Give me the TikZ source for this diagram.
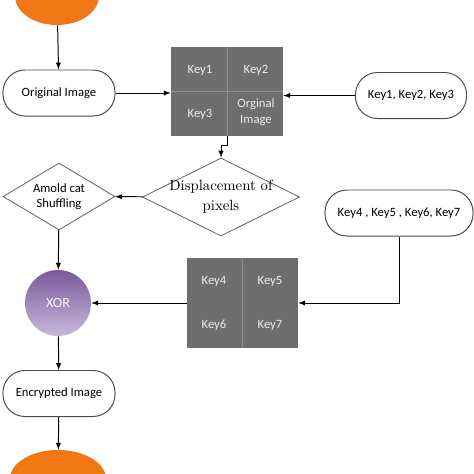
\documentclass[tikz,border=0pt]{standalone}
\usepackage{fontspec}
\usepackage{tikz}
\usepackage{xcolor}
\newfontfamily\flowfont{Carlito}
\usetikzlibrary{shapes.geometric}

\definecolor{termorange}{HTML}{F07814}
\definecolor{keygray}{HTML}{6E6E6E}
\definecolor{keyline}{HTML}{8E8E8E}
\definecolor{xordark}{HTML}{7A5A9C}
\definecolor{xorlight}{HTML}{C9B8DB}

\tikzset{
  oval/.style={ellipse, fill=termorange, text=white!85!termorange, minimum width=2.1cm, minimum height=1.45cm},
  pill/.style={draw=black!70, line width=0.7pt, rounded corners=0.55cm, fill=white,
    minimum width=2.8cm, minimum height=1.15cm},
  keygrid/.style={fill=keygray, minimum width=2.8cm, minimum height=2.225cm},
  keytext/.style={text=white!92!black},
  choice/.style={diamond, draw=black!60, line width=0.6pt, inner sep=0pt},
}

\begin{document}
\begin{tikzpicture}[x=0.025cm, y=-0.025cm, font=\flowfont\fontsize{9}{11}\selectfont]

\useasboundingbox (0,0) rectangle (474,474);
\clip (0,0) rectangle (474,474);

% Terminaux
\node[oval] (start) at (57,-4) {Start};
\node[oval, minimum width=2.4cm, minimum height=1.45cm] (stop) at (58,479) {End};

% Boites arrondies
\node[pill] (orig) at (59,93) {Original Image};
\node[pill, minimum width=2.775cm] (keyA) at (411,95.5) {Key1, Key2, Key3};
\node[pill, minimum width=3.7cm] (keyB) at (399,213) {Key4 , Key5 , Key6, Key7};
\node[pill] (enc) at (59,393.5) {Encrypted Image};

% Grilles de cles
\node[keygrid] (gridA) at (227,91.5) {};
\draw[keyline, line width=0.6pt] (gridA.north) -- (gridA.south);
\draw[keyline, line width=0.6pt] (gridA.west) -- (gridA.east);
\node[keytext] (k1) at (200,70) {Key1};
\node[keytext] (k2) at (256,70) {Key2};
\node[keytext] (k3) at (200,114) {Key3};
\node[keytext, align=center, inner sep=0pt] (k0) at (256,112) {Orginal\\Image};

\node[keygrid, minimum width=2.775cm, minimum height=2.25cm] (gridB) at (242.5,303) {};
\draw[keyline, line width=0.6pt] (gridB.north) -- (gridB.south);
\node[keytext] (k4) at (214,281) {Key4};
\node[keytext] (k5) at (270,281) {Key5};
\node[keytext] (k6) at (214,325) {Key6};
\node[keytext] (k7) at (270,325) {Key7};

% Losanges
\node[choice, minimum width=3.925cm, minimum height=1.95cm] (disp) at (221,197) {};
\node[align=center, font=\rmfamily\fontsize{10.5}{14}\selectfont] (disptext) at (disp) {Displacement of\\pixels};
\node[choice, minimum width=2.8cm, minimum height=1.675cm] (arnold) at (59,196.5) {};
\node[align=center] (arnoldtext) at (arnold) {Amold cat\\Shuffling};

% XOR
\node[circle, minimum size=1.65cm, top color=xordark, bottom color=xorlight,
  text=white!90!xorlight, font=\flowfont\fontsize{10}{12}\selectfont] (xor) at (58,303) {XOR};

% Fleches
\draw[-latex, line width=0.7pt] (start) -- (orig);
\draw[-latex, line width=0.7pt] (orig) -- (gridA.west |- orig);
\draw[-latex, line width=0.7pt] (keyA) -- (gridA.east |- keyA);
\draw[-latex, line width=0.7pt] (gridA.south) -- ++(0,9) -| (disp.north);
\draw[-latex, line width=0.7pt] (disp) -- (arnold);
\draw[-latex, line width=0.7pt] (arnold) -- (xor);
\draw[-latex, line width=0.7pt] (keyB) |- (gridB.east);
\draw[-latex, line width=0.7pt] (gridB) -- (xor);
\draw[-latex, line width=0.7pt] (xor) -- (enc);
\draw[-latex, line width=0.7pt] (enc) -- (stop);

\end{tikzpicture}
\end{document}
